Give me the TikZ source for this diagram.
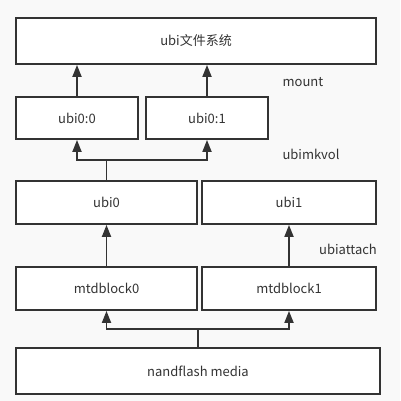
\documentclass[tikz,border=0pt]{standalone}
\usepackage{fontspec}
\setmainfont{Noto Sans CJK SC}
\usetikzlibrary{positioning, arrows.meta}

\definecolor{ink}{HTML}{333333}
\definecolor{paper}{HTML}{F9F9F9}

\tikzset{
	box/.style={draw=ink, fill=white, line width=1.8pt, text=ink, inner sep=0pt},
	lbl/.style={text=ink, inner sep=0pt},
	arr/.style={draw=ink, line width=1.8pt, -{Triangle[length=12pt, width=9pt]}},
	wire/.style={draw=ink, line width=1.8pt}
}

\begin{document}
\begin{tikzpicture}[x=1pt, y=-1pt, font=\fontsize{13}{15}\selectfont]
	\fill[paper] (0,0) rectangle (400,401);
	\useasboundingbox (0,0) rectangle (400,401);

	\node[box, minimum width=360pt, minimum height=46pt] (fs) at (196,41) {ubi文件系统};
	\node[box, minimum width=122pt, minimum height=42pt] (v0) at (77,118) {ubi0:0};
	\node[box, minimum width=122pt, minimum height=42pt] (v1) at (207,118) {ubi0:1};
	\node[box, minimum width=181pt, minimum height=43pt] (u0) at (106.5,202.5) {ubi0};
	\node[box, minimum width=174pt, minimum height=43pt] (u1) at (289,202.5) {ubi1};
	\node[box, minimum width=181pt, minimum height=43pt] (m0) at (106.5,288.5) {mtdblock0};
	\node[box, minimum width=174pt, minimum height=43pt] (m1) at (289,288.5) {mtdblock1};
	\node[box, minimum width=364pt, minimum height=46pt] (nf) at (198,371) {nandflash media};

	\node[lbl] (mount) at (303,82) {mount};
	\node[lbl] (mkvol) at (311,154) {ubimkvol};
	\node[lbl] (attach) at (348,249) {ubiattach};

	\coordinate (j1) at (106.5,160);
	\coordinate (j2) at (198,329);

	% mount
	\draw[arr] (v0.north) -- (v0.north |- fs.south);
	\draw[arr] (v1.north) -- (v1.north |- fs.south);

	% ubimkvol
	\draw[wire] (u0.north) -- (j1);
	\draw[arr] (j1) -| (v0.south);
	\draw[arr] (j1) -| (v1.south);

	% ubiattach
	\draw[arr] (m0.north) -- (u0.south);
	\draw[arr] (m1.north) -- (u1.south);

	\draw[wire] (nf.north) -- (j2);
	\draw[arr] (j2) -| (m0.south);
	\draw[arr] (j2) -| (m1.south);
\end{tikzpicture}
\end{document}
